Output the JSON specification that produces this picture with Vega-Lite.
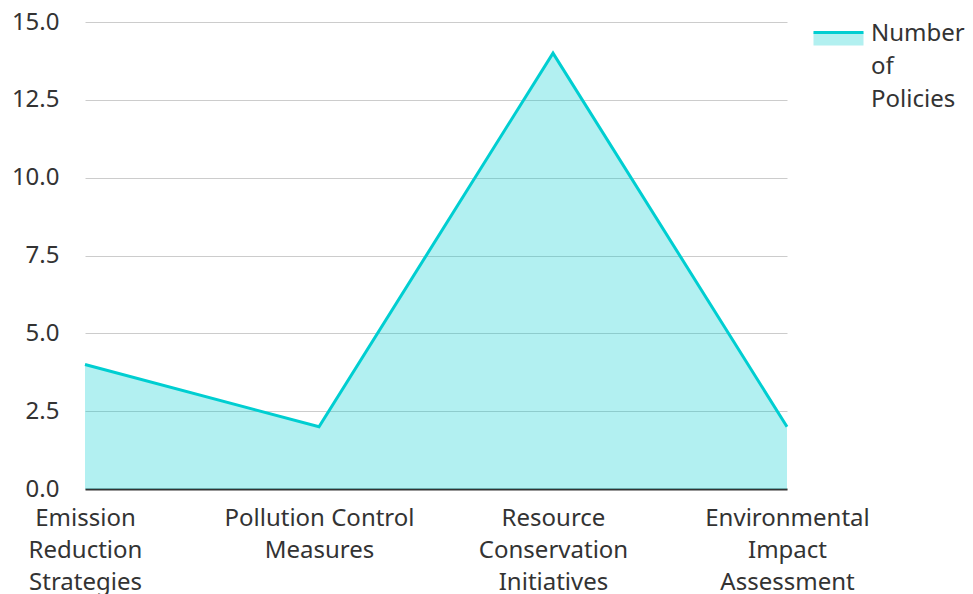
{
  "$schema": "https://vega.github.io/schema/vega-lite/v6.json",
  "width": 702,
  "height": 467,
  "autosize": {"type": "none"},
  "padding": {"left": 85, "top": 22, "right": 186, "bottom": 105},
  "background": "white",
  "config": {
    "font": "Noto Sans",
    "view": {"stroke": null},
    "axis": {"labelFont": "Noto Sans", "labelFontSize": 24, "labelColor": "#333333", "title": null}
  },
  "data": {
    "values": [
      {"category": "Emission Reduction Strategies", "policies": 4, "series": "Number of Policies"},
      {"category": "Pollution Control Measures", "policies": 2, "series": "Number of Policies"},
      {"category": "Resource Conservation Initiatives", "policies": 14, "series": "Number of Policies"},
      {"category": "Environmental Impact Assessment", "policies": 2, "series": "Number of Policies"}
    ]
  },
  "encoding": {
    "x": {
      "field": "category",
      "type": "ordinal",
      "sort": null,
      "scale": {"type": "point", "padding": 0},
      "axis": {
        "labelAngle": 0,
        "ticks": false,
        "grid": false,
        "domain": true,
        "domainColor": "#333333",
        "domainWidth": 2,
        "labelPadding": 17,
        "labelLineHeight": 32,
        "labelBaseline": "top",
        "labelLimit": 400,
        "labelOverlap": false,
        "labelExpr": "datum.value == 'Pollution Control Measures' ? ['Pollution Control', 'Measures'] : split(datum.value, ' ')"
      }
    },
    "y": {
      "field": "policies",
      "type": "quantitative",
      "scale": {"domain": [0, 15]},
      "axis": {
        "values": [0, 2.5, 5, 7.5, 10, 12.5, 15],
        "format": ".1f",
        "domain": false,
        "ticks": false,
        "labelPadding": 26,
        "grid": true,
        "gridColor": "#cccccc",
        "gridWidth": 1
      }
    }
  },
  "layer": [
    {
      "mark": {"type": "area", "fill": "#00CED1", "fillOpacity": 0.3, "interpolate": "linear"},
      "encoding": {}
    },
    {
      "mark": {"type": "line", "strokeWidth": 3, "interpolate": "linear"},
      "encoding": {
        "stroke": {
          "field": "series",
          "type": "nominal",
          "scale": {"range": ["#00CED1"]},
          "legend": {
            "title": null,
            "orient": "none",
            "legendX": 727,
            "legendY": -10,
            "symbolType": "M-1,-0.24 L1,-0.24 L1,0.28 L-1,0.28 Z",
            "symbolSize": 2500,
            "symbolOpacity": 1,
            "symbolFillColor": "#B2F0F0",
            "symbolStrokeWidth": 3,
            "symbolDash": [50, 300],
            "labelFont": "Noto Sans",
            "labelFontSize": 24,
            "labelColor": "#333333",
            "labelOffset": 6,
            "labelLimit": 300,
            "labelExpr": "split(datum.label, ' ')",
            "encode": {
              "symbols": {"update": {"fill": {"value": "#B2F0F0"}, "fillOpacity": {"value": 1}, "strokeDash": {"value": [50, 300]}}},
              "labels": {"update": {"lineHeight": {"value": 33}, "dy": {"value": -5}}}
            }
          }
        }
      }
    }
  ]
}
